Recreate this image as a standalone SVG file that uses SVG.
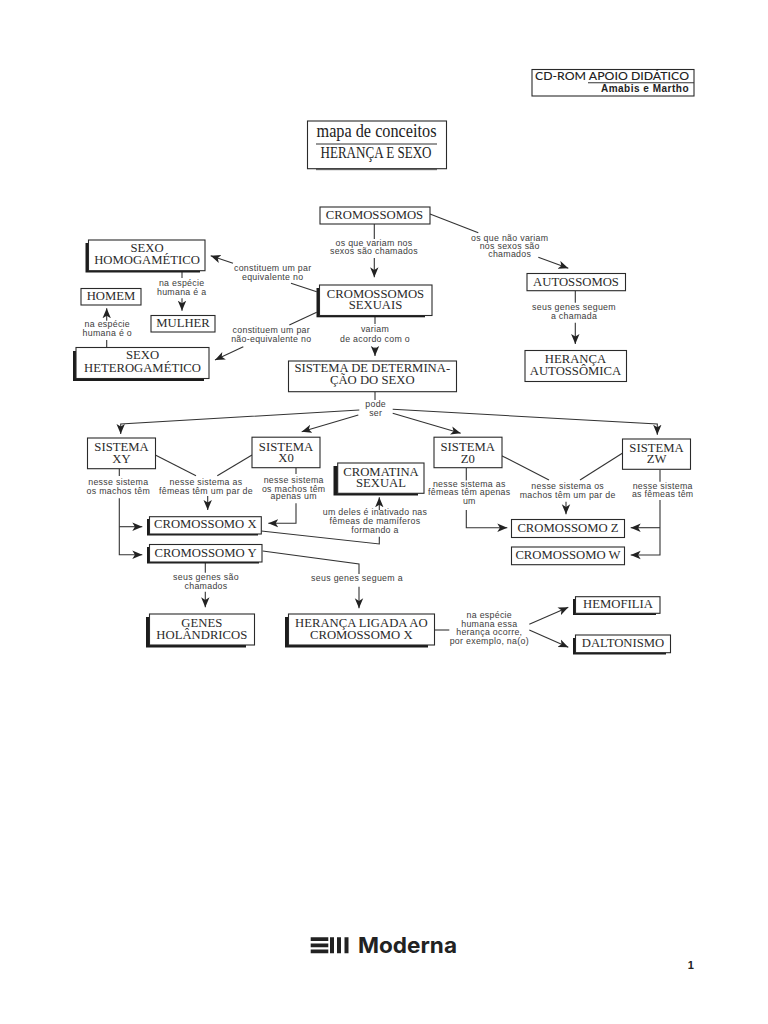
<svg xmlns="http://www.w3.org/2000/svg" width="768" height="1024" viewBox="0 0 768 1024">
<style>
.box{fill:#fff;stroke:#2a2a2a;stroke-width:1.1}
.sh{fill:#1c1c1c}
.n{font-family:"Liberation Serif",serif;font-size:12.7px;fill:#2a2a2a;text-anchor:middle}
.l{font-family:"Liberation Sans",sans-serif;font-size:8.8px;letter-spacing:.3px;fill:#3c3c3c;text-anchor:middle}
.c{fill:none;stroke:#333;stroke-width:1.1}
.a{marker-end:url(#h)}
</style>
<defs>
<marker id="h" markerUnits="userSpaceOnUse" markerWidth="11" markerHeight="10" refX="10" refY="4.5" orient="auto">
<path d="M0,0.3 L10,4.5 L0,8.7 L2.6,4.5 Z" fill="#222"/>
</marker>
</defs>
<rect width="768" height="1024" fill="#fff"/>
<g id="connectors">
<path class="c" d="M374.3,224V239"/><path class="c a" d="M374.3,258V277.3"/>
<path class="c a" d="M233,263.3L210.7,255.7"/><path class="c" d="M291,283.3L316.7,291.7"/>
<path class="c" d="M316.7,312.3L289.3,325"/><path class="c a" d="M243.3,346.7L215,360"/>
<path class="c" d="M182,271V278"/><path class="c a" d="M182,298.3V310.7"/>
<path class="c" d="M106.7,347V340"/><path class="c a" d="M106.7,320.7V308.3"/>
<path class="c" d="M375,316.7V324"/><path class="c a" d="M375,347.3V356"/>
<path class="c" d="M375,392V400"/>
<path class="c" d="M430,214L478.3,232.7"/><path class="c a" d="M538.3,257.3L568.3,268.3"/>
<path class="c" d="M575.3,291V302.7"/><path class="c a" d="M575.3,322.7V344"/>
<path class="c a" d="M359.3,410L120.7,424V434"/>
<path class="c a" d="M358.3,415L301.7,431.7"/>
<path class="c a" d="M392.7,413.3L460.7,433.3"/>
<path class="c a" d="M392.7,409.3L657.3,424V434.7"/>
<path class="c" d="M119.3,469V476"/><path class="c a" d="M119.3,498.3V554.7H142.3"/><path class="c a" d="M119.3,526.7H142.3"/>
<path class="c" d="M155.3,455L196,475.7"/><path class="c" d="M252,455L217.3,475.7"/><path class="c a" d="M207.7,496V510"/>
<path class="c" d="M296,468V474"/><path class="c a" d="M296,503.3V523.3H268.3"/>
<path class="c" d="M261.3,531L379.3,544V536.7"/><path class="c a" d="M379.3,510V497.3"/>
<path class="c" d="M262.7,551L359,564V574"/><path class="c a" d="M359,586.7V608.3"/>
<path class="c" d="M205.3,563V572.7"/><path class="c a" d="M205.3,591.7V607.3"/>
<path class="c" d="M466.3,468V480"/><path class="c a" d="M466.3,510V527.7H507.3"/>
<path class="c" d="M501.7,455.7L549,480"/><path class="c" d="M622.3,453.3L580,480"/><path class="c a" d="M566,501.7V514.3"/>
<path class="c" d="M660,470V481.7"/><path class="c a" d="M660,500V555H630.7"/><path class="c a" d="M660,527.7H630.7"/>
<path class="c" d="M434.3,630H449.3"/><path class="c a" d="M529.3,624.3L568.3,607.3"/><path class="c a" d="M529.3,630L568.3,647.3"/>
</g>
<g id="cabecalho">
<rect class="box" x="532" y="69.5" width="162" height="26.5"/>
<path class="c" d="M588,82.7H694"/>
<text x="535" y="80" font-family="Lato,sans-serif" font-size="11px" font-weight="500" fill="#222" textLength="154" lengthAdjust="spacingAndGlyphs">CD-ROM APOIO DIDÁTICO</text>
<text x="689" y="92.3" font-family="Liberation Sans,sans-serif" font-size="10px" font-weight="700" letter-spacing=".5px" fill="#222" text-anchor="end">Amabis e Martho</text>
</g>
<g id="titulo">
<rect x="316" y="166" width="121" height="4.2" fill="#777"/>
<rect class="box" x="307.5" y="121" width="139" height="47.7"/>
<path class="c" d="M316,144H437"/>
<text font-family="Liberation Serif,serif" fill="#222"><tspan x="316.5" y="137.3" font-size="18px" textLength="120" lengthAdjust="spacingAndGlyphs">mapa de conceitos</tspan><tspan x="320.5" y="158.3" font-size="16.5px" textLength="111" lengthAdjust="spacingAndGlyphs">HERANÇA E SEXO</tspan></text>
</g>
<g id="cromossomos"><rect class="box" x="320" y="207" width="110" height="17"/><text class="n" x="374.5" y="218.8">CROMOSSOMOS</text></g>
<g id="sexo-homogametico"><rect class="sh" x="85.5" y="243" width="114.5" height="29.5"/><rect class="box" x="88.5" y="240" width="116.5" height="30.7"/><text class="n"><tspan x="147" y="251.7">SEXO</tspan><tspan x="147" y="264.3">HOMOGAMÉTICO</tspan></text></g>
<g id="homem"><rect class="box" x="81" y="288.5" width="60" height="16.5"/><text class="n" x="111" y="300">HOMEM</text></g>
<g id="mulher"><rect class="box" x="151" y="315.5" width="64" height="16.5"/><text class="n" x="183" y="327.3">MULHER</text></g>
<g id="sexo-heterogametico"><rect class="sh" x="73" y="351" width="131" height="30"/><rect class="box" x="76" y="347.5" width="133" height="31"/><text class="n"><tspan x="142.5" y="359.3">SEXO</tspan><tspan x="142.5" y="371.7">HETEROGAMÉTICO</tspan></text></g>
<g id="cromossomos-sexuais"><rect class="sh" x="316.5" y="288" width="108.5" height="29.3"/><rect class="box" x="319.5" y="285" width="112.5" height="30.5"/><text class="n"><tspan x="375.5" y="297.7">CROMOSSOMOS</tspan><tspan x="375.5" y="308.9">SEXUAIS</tspan></text></g>
<g id="sistema-determinacao"><rect class="box" x="288.5" y="361" width="168" height="30.7"/><text class="n"><tspan x="372.3" y="371.9">SISTEMA DE DETERMINA-</tspan><tspan x="372.3" y="384.3">ÇÃO DO SEXO</tspan></text></g>
<g id="autossomos"><rect class="box" x="527" y="273.5" width="98.5" height="17.2"/><text class="n" x="576" y="285.7">AUTOSSOMOS</text></g>
<g id="heranca-autossomica"><rect class="box" x="525" y="350.5" width="101.5" height="31"/><text class="n"><tspan x="575.5" y="363.3">HERANÇA</tspan><tspan x="575.5" y="374.9">AUTOSSÔMICA</tspan></text></g>
<g id="sistema-xy"><rect class="box" x="87.5" y="438" width="68" height="30.7"/><text class="n"><tspan x="121.5" y="451">SISTEMA</tspan><tspan x="121.5" y="462.5">XY</tspan></text></g>
<g id="sistema-x0"><rect class="box" x="252" y="437.2" width="68" height="30.5"/><text class="n"><tspan x="286" y="450.7">SISTEMA</tspan><tspan x="286" y="462.2">X0</tspan></text></g>
<g id="sistema-z0"><rect class="box" x="434" y="437.2" width="68" height="30.5"/><text class="n"><tspan x="467.7" y="451">SISTEMA</tspan><tspan x="467.7" y="462.7">Z0</tspan></text></g>
<g id="sistema-zw"><rect class="box" x="622.5" y="439" width="68" height="30.3"/><text class="n"><tspan x="656.5" y="451.7">SISTEMA</tspan><tspan x="656.5" y="463.3">ZW</tspan></text></g>
<g id="cromatina-sexual"><rect class="sh" x="333.5" y="466" width="84.5" height="29.5"/><rect class="box" x="337.7" y="463" width="86.3" height="30.3"/><text class="n"><tspan x="381" y="476">CROMATINA</tspan><tspan x="381" y="487.3">SEXUAL</tspan></text></g>
<g id="cromossomo-x"><rect class="sh" x="147" y="519" width="111" height="16.5"/><rect class="box" x="149.5" y="516.7" width="111.8" height="17.3"/><text class="n" x="205.3" y="528.3">CROMOSSOMO X</text></g>
<g id="cromossomo-y"><rect class="sh" x="147" y="547" width="112" height="16.5"/><rect class="box" x="149.5" y="544.5" width="112.5" height="17.5"/><text class="n" x="205.5" y="556.7">CROMOSSOMO Y</text></g>
<g id="genes-holandricos"><rect class="sh" x="146" y="617" width="100" height="30.5"/><rect class="box" x="149.5" y="614" width="105" height="31"/><text class="n"><tspan x="201.8" y="626.7">GENES</tspan><tspan x="201.8" y="639">HOLÂNDRICOS</tspan></text></g>
<g id="heranca-ligada"><rect class="sh" x="285" y="617" width="143" height="30.5"/><rect class="box" x="288.5" y="614" width="146" height="31"/><text class="n"><tspan x="361.3" y="626.7">HERANÇA LIGADA AO</tspan><tspan x="361.3" y="639">CROMOSSOMO X</tspan></text></g>
<g id="cromossomo-z"><rect class="box" x="511.5" y="519.5" width="113" height="18"/><text class="n" x="568" y="532.3">CROMOSSOMO Z</text></g>
<g id="cromossomo-w"><rect class="box" x="511.5" y="547" width="113" height="17.7"/><text class="n" x="568" y="559.3">CROMOSSOMO W</text></g>
<g id="hemofilia"><rect class="sh" x="573" y="599" width="83" height="16"/><rect class="box" x="575.5" y="596.7" width="84.5" height="16.6"/><text class="n" x="618" y="607.9">HEMOFILIA</text></g>
<g id="daltonismo"><rect class="sh" x="573" y="638" width="93" height="16.5"/><rect class="box" x="575.5" y="635" width="95" height="17.7"/><text class="n" x="623" y="647.4">DALTONISMO</text></g>
<g id="rotulos">
<text class="l"><tspan x="374" y="245.7">os que variam nos</tspan><tspan x="374" y="254">sexos são chamados</tspan></text>
<text class="l"><tspan x="272.7" y="271.3">constituem um par</tspan><tspan x="272.7" y="280">equivalente no</tspan></text>
<text class="l"><tspan x="271.3" y="332.7">constituem um par</tspan><tspan x="271.3" y="341.7">não-equivalente no</tspan></text>
<text class="l"><tspan x="181.7" y="286.3">na espécie</tspan><tspan x="181.7" y="295">humana é a</tspan></text>
<text class="l"><tspan x="107.3" y="327.3">na espécie</tspan><tspan x="107.3" y="336">humana é o</tspan></text>
<text class="l"><tspan x="375" y="331.7">variam</tspan><tspan x="375" y="341.7">de acordo com o</tspan></text>
<text class="l"><tspan x="375.7" y="407.3">pode</tspan><tspan x="375.7" y="415.7">ser</tspan></text>
<text class="l"><tspan x="509.7" y="240.7">os que não variam</tspan><tspan x="509.7" y="249.3">nos sexos são</tspan><tspan x="509.7" y="256.7">chamados</tspan></text>
<text class="l"><tspan x="574" y="310.3">seus genes seguem</tspan><tspan x="574" y="319">a chamada</tspan></text>
<text class="l"><tspan x="118.3" y="485">nesse sistema</tspan><tspan x="118.3" y="493.7">os machos têm</tspan></text>
<text class="l"><tspan x="206" y="485">nesse sistema as</tspan><tspan x="206" y="493.7">fêmeas têm um par de</tspan></text>
<text class="l"><tspan x="293.7" y="483.3">nesse sistema</tspan><tspan x="293.7" y="491.7">os machos têm</tspan><tspan x="293.7" y="499.3">apenas um</tspan></text>
<text class="l"><tspan x="375" y="515">um deles é inativado nas</tspan><tspan x="375" y="524">fêmeas de mamíferos</tspan><tspan x="375" y="533.3">formando a</tspan></text>
<text class="l"><tspan x="206" y="580">seus genes são</tspan><tspan x="206" y="588.7">chamados</tspan></text>
<text class="l" x="357" y="581.3">seus genes seguem a</text>
<text class="l"><tspan x="469.3" y="487.3">nesse sistema as</tspan><tspan x="469.3" y="495.3">fêmeas têm apenas</tspan><tspan x="469.3" y="504">um</tspan></text>
<text class="l"><tspan x="567.7" y="488.7">nesse sistema os</tspan><tspan x="567.7" y="497.7">machos têm um par de</tspan></text>
<text class="l"><tspan x="662.7" y="488.7">nesse sistema</tspan><tspan x="662.7" y="497.3">as fêmeas têm</tspan></text>
<text class="l"><tspan x="489.3" y="618.3">na espécie</tspan><tspan x="489.3" y="627">humana essa</tspan><tspan x="489.3" y="635">herança ocorre,</tspan><tspan x="489.3" y="644.3">por exemplo, na(o)</tspan></text>
</g>
<g id="logo">
<path fill="#222" d="M310.7,937.3h17.6v3.8h-17.6zM310.7,943.4h17.6v3.8h-17.6zM310.7,949.5h17.6v3.8h-17.6zM330,937.3h4v16h-4zM337,937.3h4v16h-4zM344.5,937.3h4v16h-4z"/>
<text x="358" y="953.3" font-family="Inter,sans-serif" font-size="21.5px" font-weight="700" fill="#222" textLength="99" lengthAdjust="spacingAndGlyphs">Moderna</text>
<text x="690.7" y="969" font-family="Liberation Sans,sans-serif" font-size="11px" font-weight="700" fill="#222" text-anchor="middle">1</text>
</g>
</svg>
